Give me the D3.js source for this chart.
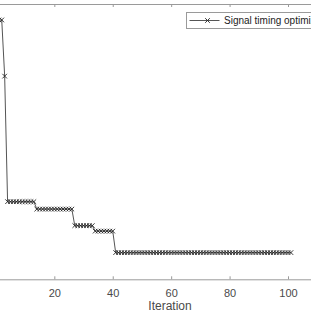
<!DOCTYPE html>
<head>
    <meta charset="utf-8">
    <title>Signal timing optimization</title>
    <style>
        body { margin: 0; background: #fff; }
        svg { display: block; font-family: "Liberation Sans", Arial, sans-serif; }
    </style>
</head>

<body>

<svg width="311" height="311"></svg>

<script src="https://d3js.org/d3.v7.min.js"></script>

<script>

    // objective value per iteration (plot(y) style, iterations start at 1)
    var cost = [
        94.2, 94.2, 73.8,
        28.2, 28.2, 28.2, 28.2, 28.2, 28.2, 28.2, 28.2, 28.2, 28.2,
        25.5, 25.5, 25.5, 25.5, 25.5, 25.5, 25.5, 25.5, 25.5, 25.5, 25.5, 25.5, 25.5,
        19.5, 19.5, 19.5, 19.5, 19.5, 19.5, 19.5,
        17.5, 17.5, 17.5, 17.5, 17.5, 17.5, 17.5,
        9.7, 9.7, 9.7, 9.7, 9.7, 9.7, 9.7, 9.7, 9.7, 9.7,
        9.7, 9.7, 9.7, 9.7, 9.7, 9.7, 9.7, 9.7, 9.7, 9.7,
        9.7, 9.7, 9.7, 9.7, 9.7, 9.7, 9.7, 9.7, 9.7, 9.7,
        9.7, 9.7, 9.7, 9.7, 9.7, 9.7, 9.7, 9.7, 9.7, 9.7,
        9.7, 9.7, 9.7, 9.7, 9.7, 9.7, 9.7, 9.7, 9.7, 9.7,
        9.7, 9.7, 9.7, 9.7, 9.7, 9.7, 9.7, 9.7, 9.7, 9.7,
        9.7
    ];
    var xTicks = [20, 40, 60, 80, 100];   // 0 sits outside the cropped picture
    var seriesName = "Signal timing optimization";
    var xLabel = "Iteration";

    var svg = d3.select("svg");

    // the figure is cropped: left and right axis edges fall outside the picture
    var x = d3.scaleLinear().domain([0, 100]).range([-4.1, 288]),
        y = d3.scaleLinear().domain([0, 100]).range([279.3, 4]);

    var axisColor = "#9a9a9a",
        textColor = "#4a4a4a";

    // bottom axis, ticks pointing inward
    var gx = svg.append("g")
        .attr("transform", "translate(0," + y(0) + ")")
        .call(d3.axisBottom(x).tickValues(xTicks).tickSizeInner(-3).tickSizeOuter(0).tickPadding(10));

    // top axis, ticks only
    var gt = svg.append("g")
        .attr("transform", "translate(0," + y(100) + ")")
        .call(d3.axisTop(x).tickValues(xTicks).tickSizeInner(-3).tickSizeOuter(0).tickFormat(""));

    [gx, gt].forEach(function(g) {
        g.select(".domain").attr("stroke", axisColor).attr("d", "M-10,0.5H330");
        g.selectAll(".tick line").attr("stroke", axisColor);
        g.selectAll(".tick text").attr("fill", textColor).style("font-size", "11px");
    });

    svg.append("text")
        .attr("x", 170)
        .attr("y", 310)
        .attr("text-anchor", "middle")
        .attr("fill", textColor)
        .style("font-size", "12px")
        .text(xLabel);

    // series
    var line = d3.line()
        .x(function(d, i) { return x(i + 1); })
        .y(function(d) { return y(d); });

    svg.append("path")
        .datum(cost)
        .attr("fill", "none")
        .attr("stroke", "#555")
        .attr("stroke-width", 1)
        .attr("d", line);

    var m = 2.3;   // half size of the x marker
    svg.append("g").selectAll("path")
        .data(cost)
        .enter().append("path")
        .attr("transform", function(d, i) { return "translate(" + x(i + 1) + "," + y(d) + ")"; })
        .attr("d", "M" + (-m) + "," + (-m) + "L" + m + "," + m + "M" + (-m) + "," + m + "L" + m + "," + (-m))
        .attr("stroke", "#222")
        .attr("stroke-width", 0.9)
        .attr("fill", "none");

    // legend (runs off the right edge)
    var lg = svg.append("g").attr("transform", "translate(186.5,12.5)");
    lg.append("rect")
        .attr("width", 200)
        .attr("height", 16)
        .attr("fill", "#fff")
        .attr("stroke", axisColor);
    lg.append("line")
        .attr("x1", 3).attr("x2", 33).attr("y1", 8).attr("y2", 8)
        .attr("stroke", "#555");
    lg.append("path")
        .attr("transform", "translate(21,8)")
        .attr("d", "M" + (-m) + "," + (-m) + "L" + m + "," + m + "M" + (-m) + "," + m + "L" + m + "," + (-m))
        .attr("stroke", "#222")
        .attr("stroke-width", 0.9);
    lg.append("text")
        .attr("x", 37.5)
        .attr("y", 11.5)
        .attr("fill", "#222")
        .style("font-size", "10px")
        .text(seriesName);

</script>

</body>
